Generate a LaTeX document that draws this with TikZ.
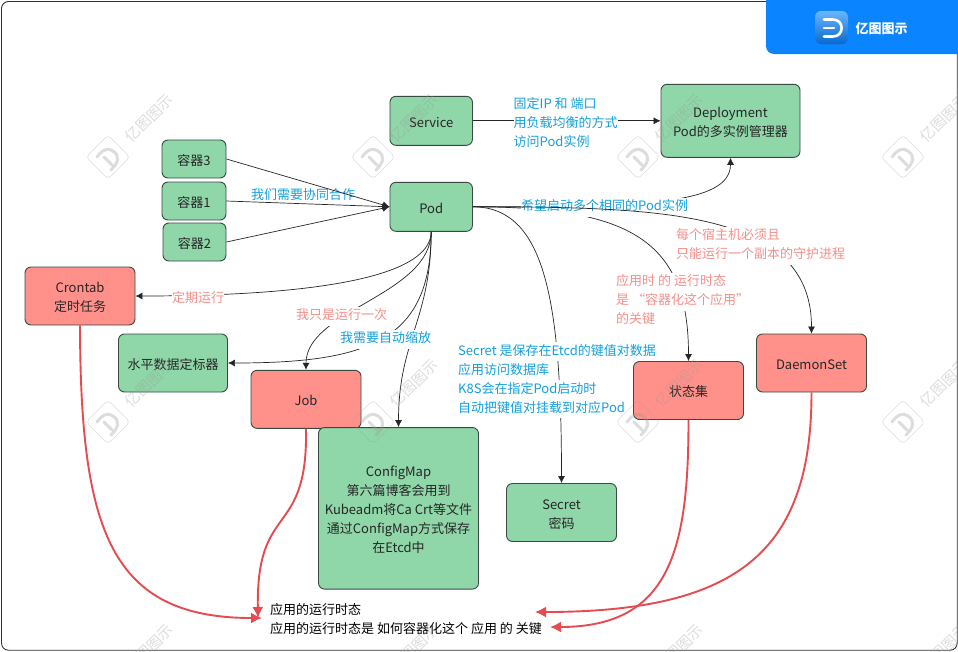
\documentclass[tikz,border=0pt]{standalone}
\usepackage{fontspec}
\setmainfont{Noto Sans CJK SC}
\usetikzlibrary{arrows.meta}
\definecolor{boxgreen}{HTML}{8FD6A8}
\definecolor{boxred}{HTML}{FF918A}
\definecolor{edgegray}{HTML}{3A4A42}
\definecolor{lblue}{HTML}{14A0DC}
\definecolor{lpink}{HTML}{F58F8A}
\definecolor{arrred}{HTML}{E64C4F}
\definecolor{brandblue}{HTML}{0A84FF}
\definecolor{wmgray}{HTML}{999999}
\newcommand{\hl}[1]{\setlength{\fboxsep}{0pt}\colorbox{white}{\strut #1}}
\tikzset{
	x=1pt, y=-1pt,
	box/.style={draw=edgegray, line width=0.9pt, rounded corners=6pt, align=center, inner sep=0pt,
		font=\fontsize{13}{19}\selectfont, text=black!85},
	green box/.style={box, fill=boxgreen},
	red box/.style={box, fill=boxred},
	link/.style={-{Latex[length=7pt,width=7pt]}, line width=0.7pt, black!85},
	back/.style={-{Latex[length=11pt,width=11pt]}, line width=1.9pt, arrred},
	lbl/.style={font=\fontsize{13}{19}\selectfont, align=left, inner sep=0pt},
	blue lbl/.style={lbl, text=lblue},
	pink lbl/.style={lbl, text=lpink},
	wm/.style={wmgray, opacity=0.33},
	wm text/.style={font=\fontsize{15}{15}\selectfont, text=wmgray, text opacity=0.33, rotate=45}
}
% box text sits a little low, as in the reference
\newcommand{\boxat}[6]{\node[#1, minimum width=#4pt, minimum height=#5pt] (#2) at (#3)
	{\raisebox{0pt}[\dimexpr\height+5pt\relax][\depth]{\begin{tabular}{@{}c@{}}#6\end{tabular}}};}
\begin{document}
\begin{tikzpicture}
\clip (0,0) rectangle (958,651);
\fill[white] (0,0) rectangle (958,651);
% frame
\draw[line width=0.9pt, black!80, rounded corners=7pt] (1.5,1.5) rectangle (957.2,650.2);

% boxes
\boxat{green box}{c3}{194,159}{64}{38}{容器3}
\boxat{green box}{c1}{194,201}{64}{38}{容器1}
\boxat{green box}{c2}{194.5,242}{63}{38}{容器2}
\boxat{green box}{svc}{431.2,120.8}{82.5}{49}{Service}
\boxat{green box}{pod}{431.2,206.8}{82.5}{49}{Pod}
\boxat{green box}{dep}{730.5,120.8}{139}{73}{Deployment\\Pod的多实例管理器}
\boxat{red box}{cron}{80,296}{110}{58}{Crontab\\定时任务}
\boxat{green box}{hpa}{173,363}{109}{58}{水平数据定标器}
\boxat{red box}{job}{306,399.3}{110}{58}{Job}
\boxat{green box}{cm}{398.5,508.3}{160}{161.5}{ConfigMap\\第六篇博客会用到\\Kubeadm将Ca Crt等文件\\通过ConfigMap方式保存\\在Etcd中}
\boxat{green box}{sec}{561.5,512.5}{110}{58}{Secret\\密码}
\boxat{red box}{sts}{688.5,390.5}{110}{58}{状态集}
\boxat{red box}{ds}{811.5,363}{110}{58}{DaemonSet}

% connectors with a label that sits on top of them
\draw[link] (svc.east) -- (dep.west);
\draw[link] (pod.east) .. controls (640,207) and (730.5,205) .. (dep.south);
\draw[link] (pod.south) .. controls (431,280) and (300,296) .. (cron.east);
\draw[link] (pod.south) .. controls (431,295) and (306,310) .. (job.north);
\draw[link] (pod.south) .. controls (431,340) and (370,363) .. (hpa.east);
\draw[link] (pod.south) .. controls (431,320) and (398.5,340) .. (cm.north);
\draw[link] (pod.east) .. controls (545,207) and (561.5,300) .. (sec.north);
\draw[link] (pod.east) .. controls (630,207) and (688.5,240) .. (sts.north);

\node[blue lbl, anchor=west] (l1) at (513.5,124) {\hl{固定IP 和 端口}\\\hl{用负载均衡的方式}\\\hl{访问Pod实例}};
\node[blue lbl, anchor=center] (l2) at (303,195) {我们需要协同合作};
\node[blue lbl, anchor=west] (l3) at (521,207) {\hl{希望启动多个相同的Pod实例}};
\node[pink lbl, anchor=west] (l5) at (172,299) {\hl{定期运行}};
\node[pink lbl, anchor=west] (l6) at (296,316) {\hl{我只是运行一次}};
\node[blue lbl, anchor=west] (l7) at (340,339) {\hl{我需要自动缩放}};
\node[blue lbl, anchor=west] (l8) at (458,380) {\hl{Secret 是保存在Etcd的键值对数据}\\\hl{应用访问数据库}\\\hl{K8S会在指定Pod启动时}\\\hl{自动把键值对挂载到对应Pod}};
\node[pink lbl, anchor=west] (l9) at (616,301) {\hl{应用时 的 运行时态}\\\hl{是 “容器化这个应用”}\\\hl{的关键}};

\draw[link] (pod.east) .. controls (660,207) and (811.5,210) .. (ds.north);
\node[pink lbl, anchor=west] (l4) at (676,245.5) {\hl{每个宿主机必须且}\\\hl{只能运行一个副本的守护进程}};

\draw[link] (c3.east) -- (pod.west);
\draw[link] (c1.east) -- (pod.west);
\draw[link] (c2.east) -- (pod.west);

% run time note and the red arrows into it
\node[lbl, anchor=west, text=black] (rt) at (270,619.5) {应用的运行时态\\应用的运行时态是 如何容器化这个 应用 的 关键};
\coordinate (in1) at (262,618);
\coordinate (in2) at (258,618);
\coordinate (in3) at (535,612);
\coordinate (in4) at (550,627);
\draw[back] (cron.south) .. controls (80.5,530) and (110,618) .. (in1);
\draw[back] (job.south) .. controls (308,540) and (256,500) .. (in2);
\draw[back] (ds.south) .. controls (811.5,550) and (740,612) .. (in3);
\draw[back] (sts.south) .. controls (688.5,550) and (670,627) .. (in4);

% watermark
\foreach \wx in {108,373,638,903} \foreach \wy in {157,422,687} {
	\begin{scope}[shift={(\wx,\wy)}]
		\draw[wm, line width=0.6pt, rounded corners=4pt] (-22,0) -- (0,-22) -- (22,0) -- (0,22) -- cycle;
		\draw[wm, line width=3pt, line cap=round] (-11,0) .. controls (-6,-7) and (0,-10) .. (5,-6) .. controls (12,-1) and (11,5) .. (3,13);
		\draw[wm, line width=3pt, line cap=round] (-4,0) -- (4,8);
	\end{scope}
	\node[wm text] (wm\wx-\wy) at (\wx+41,\wy-39) {亿图图示};
}

% brand tab
\fill[brandblue, rounded corners=8pt] (766,-20) -- (766,54) -- (978,54) -- (978,-20) -- cycle;
\shade[top color=brandblue!60!white, bottom color=brandblue!80!black, rounded corners=6pt] (815,11) rectangle (848,44);
\draw[white, line width=2.6pt, line cap=round] (824,19.5) -- (833,19.5) .. controls (844.5,19.5) and (844.5,36.5) .. (833,36.5) -- (824,36.5);
\draw[white, line width=2.6pt, line cap=round] (824,28) -- (834,28);
\node[font=\fontsize{13}{13}\selectfont\bfseries, text=white, inner sep=0pt] (brand) at (881.5,29) {亿图图示};
\end{tikzpicture}
\end{document}
